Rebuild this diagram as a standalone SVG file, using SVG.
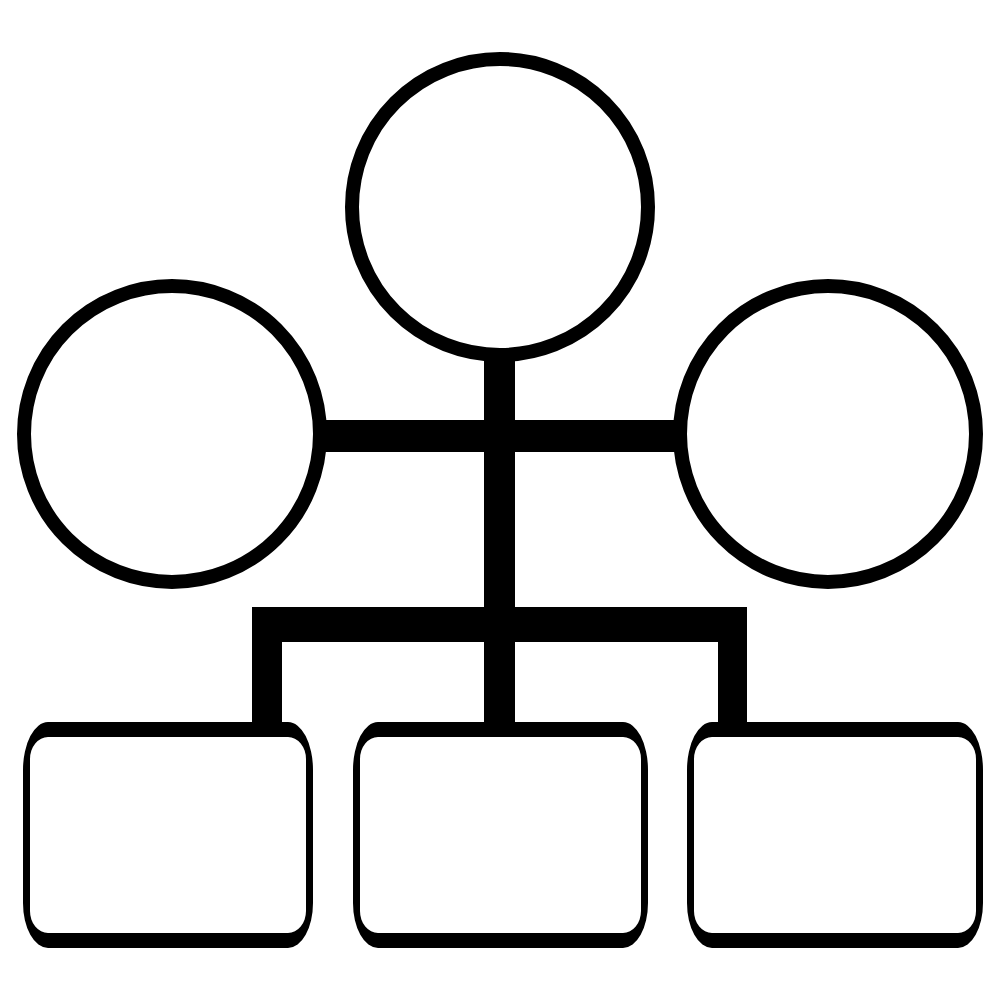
<svg xmlns="http://www.w3.org/2000/svg" width="1000" height="1000" viewBox="0 0 1000 1000">
  <style>
    .circle { fill: #ffffff; stroke: #000000; stroke-width: 14; }
    .conn { fill: #000000; }
    .box { fill: #000000; fill-rule: evenodd; }
  </style>
  <rect x="0" y="0" width="1000" height="1000" fill="#ffffff"/>
  <g id="connectors">
    <rect class="conn" x="484" y="350" width="31" height="374"/>
    <rect class="conn" x="318" y="420" width="364" height="32"/>
    <rect class="conn" x="252" y="607" width="495" height="35"/>
    <rect class="conn" x="252" y="607" width="30" height="117"/>
    <rect class="conn" x="718" y="607" width="29" height="117"/>
  </g>
  <g id="node-top">
    <circle class="circle" cx="500" cy="207" r="148"/>
  </g>
  <g id="node-left">
    <circle class="circle" cx="172" cy="434" r="148"/>
  </g>
  <g id="node-right">
    <circle class="circle" cx="828" cy="434" r="148"/>
  </g>
  <g id="box-left">
    <path class="box" d="M48,722 H288 A25 48 0 0 1 313,770 V903 A25 45 0 0 1 288,948 H48 A25 45 0 0 1 23,903 V770 A25 48 0 0 1 48,722 Z M48,737 H288 A18 22 0 0 1 306,759 V911 A18 22 0 0 1 288,933 H48 A18 22 0 0 1 30,911 V759 A18 22 0 0 1 48,737 Z"/>
  </g>
  <g id="box-middle">
    <path class="box" d="M378,722 H623 A25 48 0 0 1 648,770 V903 A25 45 0 0 1 623,948 H378 A25 45 0 0 1 353,903 V770 A25 48 0 0 1 378,722 Z M378,737 H623 A18 22 0 0 1 641,759 V911 A18 22 0 0 1 623,933 H378 A18 22 0 0 1 360,911 V759 A18 22 0 0 1 378,737 Z"/>
  </g>
  <g id="box-right">
    <path class="box" d="M712,722 H958 A25 48 0 0 1 983,770 V903 A25 45 0 0 1 958,948 H712 A25 45 0 0 1 687,903 V770 A25 48 0 0 1 712,722 Z M712,737 H958 A18 22 0 0 1 976,759 V911 A18 22 0 0 1 958,933 H712 A18 22 0 0 1 694,911 V759 A18 22 0 0 1 712,737 Z"/>
  </g>
</svg>
